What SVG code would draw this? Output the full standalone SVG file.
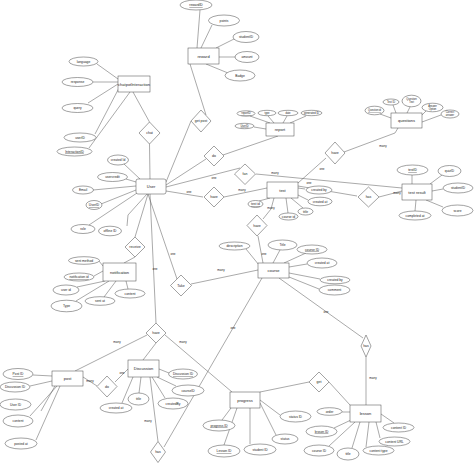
<svg xmlns="http://www.w3.org/2000/svg" width="474" height="464" viewBox="0 0 474 464">
<style>
text{font-family:"Liberation Sans",Arial,sans-serif;text-anchor:middle;dominant-baseline:central;fill:#222}
.e rect{fill:#fff;stroke:#444;stroke-width:0.5}
.a ellipse{fill:#fff;stroke:#444;stroke-width:0.5}
.r polygon{fill:#fff;stroke:#444;stroke-width:0.5}
.e text{font-size:4px}
.a text{font-size:3.3px}
.r text{font-size:3.5px}
.u{text-decoration:underline}
#connectors line,#connectors polyline{stroke:#555;stroke-width:0.5;fill:none}
#connectors text{font-size:3px}
</style>
<rect width="474" height="464" fill="#fff"/>
<g id="connectors">
<!-- chatpot attrs -->
<line x1="97" y1="64" x2="118" y2="79"/>
<line x1="93" y1="82" x2="118" y2="82"/>
<line x1="88" y1="103" x2="118" y2="84"/>
<line x1="95" y1="134" x2="119" y2="88"/>
<line x1="89" y1="148" x2="130" y2="92"/>
<line x1="133" y1="92" x2="149.5" y2="122"/>
<line x1="149.5" y1="144" x2="150" y2="179"/>
<!-- reward -->
<line x1="200" y1="10" x2="197" y2="48"/>
<line x1="212" y1="25" x2="201" y2="48"/>
<line x1="236" y1="38" x2="216" y2="48"/>
<line x1="236" y1="57" x2="219" y2="57"/>
<line x1="228" y1="73" x2="206" y2="64"/>
<line x1="190" y1="64" x2="206" y2="115"/>
<line x1="191" y1="121" x2="166" y2="182"/>
<!-- do / report -->
<line x1="166" y1="185" x2="206" y2="159"/>
<line x1="223" y1="155" x2="278" y2="136"/>
<line x1="250" y1="116" x2="270" y2="123"/>
<line x1="268" y1="116" x2="274" y2="123"/>
<line x1="287" y1="116" x2="283" y2="123"/>
<line x1="306" y1="116" x2="290" y2="123"/>
<line x1="254" y1="127" x2="266" y2="129"/>
<!-- questions -->
<line x1="380" y1="114" x2="391" y2="118"/>
<line x1="393" y1="105" x2="396" y2="113"/>
<line x1="410" y1="107" x2="407" y2="113"/>
<line x1="426" y1="111" x2="422" y2="115"/>
<line x1="441" y1="115" x2="422" y2="122"/>
<polyline points="398,128 395,133 344,152"/>
<text x="383" y="146">many</text>
<line x1="326" y1="158" x2="298" y2="183"/>
<text x="322" y="169">one</text>
<!-- user attrs -->
<line x1="124" y1="164" x2="140" y2="179"/>
<line x1="126" y1="179" x2="136" y2="182"/>
<line x1="93" y1="190" x2="136" y2="186"/>
<line x1="101" y1="204" x2="136" y2="190"/>
<line x1="89" y1="225" x2="137" y2="193"/>
<polyline points="127,226 128,215 147,194"/>
<!-- notification -->
<line x1="148" y1="194" x2="135" y2="237"/>
<line x1="135" y1="257" x2="124" y2="263"/>
<line x1="99" y1="261" x2="103" y2="266"/>
<line x1="94" y1="276" x2="103" y2="271"/>
<line x1="77" y1="287" x2="105" y2="281"/>
<line x1="76" y1="301" x2="109" y2="281"/>
<line x1="104" y1="297" x2="116" y2="281"/>
<line x1="128" y1="289" x2="126" y2="281"/>
<!-- fan -->
<line x1="166" y1="187" x2="240" y2="168"/>
<text x="214" y="178">one</text>
<line x1="256" y1="174" x2="402" y2="188"/>
<text x="275" y="173">many</text>
<!-- have test -->
<line x1="166" y1="191" x2="203" y2="197"/>
<text x="189" y="192">one</text>
<line x1="224" y1="197" x2="267" y2="188"/>
<text x="242" y="190">many</text>
<!-- has test result -->
<line x1="298" y1="186" x2="357" y2="196"/>
<text x="309" y="183">one</text>
<line x1="379" y1="197" x2="402" y2="191"/>
<text x="397" y="193">many</text>
<!-- test attrs -->
<line x1="305" y1="189" x2="298" y2="188"/>
<line x1="308" y1="200" x2="298" y2="195"/>
<line x1="303" y1="208" x2="291" y2="198"/>
<line x1="288" y1="213" x2="286" y2="198"/>
<line x1="259" y1="201" x2="270" y2="198"/>
<!-- test result attrs -->
<line x1="412" y1="175" x2="412" y2="184"/>
<line x1="442" y1="175" x2="430" y2="184"/>
<line x1="443" y1="189" x2="432" y2="191"/>
<line x1="443" y1="207" x2="426" y2="200"/>
<line x1="415" y1="211" x2="416" y2="200"/>
<!-- test - have - course -->
<polyline points="274,198 271,209 263,219"/>
<text x="271" y="208">many</text>
<line x1="258" y1="236" x2="263" y2="263"/>
<text x="264" y="254">one</text>
<!-- course attrs -->
<line x1="246" y1="249" x2="259" y2="265"/>
<line x1="280" y1="250" x2="273" y2="263"/>
<line x1="306" y1="253" x2="284" y2="263"/>
<line x1="307" y1="264" x2="289" y2="267"/>
<line x1="320" y1="279" x2="289" y2="273"/>
<line x1="319" y1="289" x2="289" y2="277"/>
<!-- take -->
<line x1="148" y1="194" x2="177" y2="279"/>
<text x="173" y="254">one</text>
<line x1="191" y1="284" x2="258" y2="270"/>
<text x="221" y="270">many</text>
<!-- user to have discussion -->
<line x1="150" y1="194" x2="156" y2="323"/>
<text x="155" y="269">one</text>
<line x1="147" y1="335" x2="75" y2="371"/>
<text x="117" y="342">many</text>
<line x1="156" y1="343" x2="143" y2="360"/>
<line x1="165" y1="335" x2="232" y2="392"/>
<text x="183" y="342">many</text>
<!-- discussion attrs -->
<line x1="169" y1="373" x2="159" y2="369"/>
<line x1="176" y1="386" x2="157" y2="377"/>
<line x1="165" y1="398" x2="152" y2="377"/>
<line x1="139" y1="393" x2="141" y2="377"/>
<line x1="122" y1="403" x2="133" y2="377"/>
<!-- do post -->
<line x1="83" y1="377" x2="97" y2="386"/>
<text x="90" y="381">many</text>
<line x1="115" y1="382" x2="128" y2="369"/>
<text x="122" y="373">one</text>
<!-- post attrs -->
<line x1="33" y1="375" x2="52" y2="376"/>
<line x1="30" y1="386" x2="52" y2="381"/>
<line x1="41" y1="411" x2="55" y2="386"/>
<line x1="30" y1="416" x2="57" y2="386"/>
<line x1="36" y1="440" x2="60" y2="386"/>
<!-- has discussion/course -->
<line x1="150" y1="377" x2="158" y2="441.5"/>
<text x="148" y="421">many</text>
<line x1="262" y1="278" x2="164" y2="447"/>
<text x="233" y="328">one</text>
<!-- course has lesson -->
<line x1="279" y1="278" x2="363" y2="338"/>
<text x="326" y="312">one</text>
<line x1="366" y1="357" x2="366" y2="405"/>
<text x="373" y="378">many</text>
<!-- progress -->
<line x1="260" y1="392" x2="309" y2="382"/>
<line x1="329" y1="382" x2="350" y2="405"/>
<line x1="222" y1="420" x2="231" y2="408"/>
<line x1="224" y1="445" x2="237" y2="408"/>
<line x1="250" y1="444" x2="250" y2="408"/>
<line x1="280" y1="415" x2="260" y2="400"/>
<line x1="276" y1="435" x2="260" y2="403"/>
<!-- lesson attrs -->
<line x1="342" y1="412" x2="350" y2="412"/>
<line x1="334" y1="428" x2="351" y2="420"/>
<line x1="329" y1="446" x2="355" y2="422"/>
<line x1="352" y1="448" x2="360" y2="422"/>
<line x1="394" y1="423" x2="381" y2="414"/>
<line x1="380" y1="438" x2="376" y2="422"/>
<line x1="366" y1="447" x2="369" y2="422"/>
</g>
<!-- entities -->
<g id="chatpotInteraction" class="e"><rect x="118" y="76" width="32" height="16"/><text x="134" y="84">chatpotInteraction</text></g>
<g id="reward" class="e"><rect x="188" y="48" width="31" height="16"/><text x="203.5" y="56">reward</text></g>
<g id="report" class="e"><rect x="266" y="123" width="28" height="13"/><text x="280" y="129.5">report</text></g>
<g id="questions" class="e"><rect x="391" y="113" width="31" height="15"/><text x="406.5" y="120.5">questions</text></g>
<g id="user" class="e"><rect x="136" y="179" width="30" height="15" rx="2"/><text x="151" y="186.5">User</text></g>
<g id="test" class="e"><rect x="267" y="182" width="31" height="16"/><text x="282.5" y="190">test</text></g>
<g id="test-result" class="e"><rect x="402" y="184" width="30" height="16"/><text x="417" y="192">test result</text></g>
<g id="notification" class="e"><rect x="103" y="263" width="33" height="18"/><text x="119.5" y="272">notification</text></g>
<g id="course" class="e"><rect x="258" y="263" width="31" height="15"/><text x="273.5" y="270.5">course</text></g>
<g id="post" class="e"><rect x="52" y="371" width="31" height="15"/><text x="67.5" y="378.5">post</text></g>
<g id="discussion" class="e"><rect x="128" y="360" width="31" height="17"/><text x="143.5" y="368.5">Discussion</text></g>
<g id="progress" class="e"><rect x="230" y="392" width="30" height="16"/><text x="245" y="400">progress</text></g>
<g id="lesson" class="e"><rect x="350" y="405" width="31" height="17"/><text x="365.5" y="413.5">lesson</text></g>
<!-- relationships -->
<g id="r-chat" class="r"><polygon points="149.5,122 160,133 149.5,144 139,133"/><text x="149.5" y="133">chat</text></g>
<g id="r-getpost" class="r"><polygon points="201,110 211,121 201,132 191,121"/><text x="201" y="121">get post</text></g>
<g id="r-do1" class="r"><polygon points="214,146 224,156 214,166 204,156"/><text x="214" y="156">do</text></g>
<g id="r-have-q" class="r"><polygon points="335,142 345,153 335,164 325,153"/><text x="335" y="153">have</text></g>
<g id="r-fan" class="r"><polygon points="245,164 255.5,174 245,184.5 234.5,174"/><text x="245" y="174">fan</text></g>
<g id="r-have-t" class="r"><polygon points="214,187 224,197 214,207 204,197"/><text x="214" y="197">have</text></g>
<g id="r-has-tr" class="r"><polygon points="368.5,187 379,197 368.5,207 358,197"/><text x="368.5" y="197">has</text></g>
<g id="r-have-c" class="r"><polygon points="257,215 267,225.5 257,236 247,225.5"/><text x="257" y="225.5">have</text></g>
<g id="r-receive" class="r"><polygon points="135,237 145,247 135,257 125,247"/><text x="135" y="247">receive</text></g>
<g id="r-take" class="r"><polygon points="181,275 191.5,285.5 181,296 170.5,285.5"/><text x="181" y="285.5">Take</text></g>
<g id="r-have-d" class="r"><polygon points="156,323 166,333 156,343 146,333"/><text x="156" y="333">have</text></g>
<g id="r-do2" class="r"><polygon points="107,376 117,386.5 107,397 97,386.5"/><text x="107" y="386.5">do</text></g>
<g id="r-has-d" class="r"><polygon points="158,441.5 165.5,452 158,462.5 150.5,452"/><text x="158" y="452">has</text></g>
<g id="r-get" class="r"><polygon points="319,372 329,382 319,392 309,382"/><text x="319" y="382">get</text></g>
<g id="r-has-l" class="r"><polygon points="366,335 371,346 366,357 361,346"/><text x="366" y="346">has</text></g>
<!-- attributes -->
<g id="a-language" class="a"><ellipse cx="83.5" cy="61.5" rx="14.5" ry="4.5"/><text x="83.5" y="61.5">language</text></g>
<g id="a-response" class="a"><ellipse cx="77.5" cy="82" rx="15.5" ry="4.5"/><text x="77.5" y="82">response</text></g>
<g id="a-query" class="a"><ellipse cx="77.5" cy="108" rx="15.5" ry="4.5"/><text x="77.5" y="108">query</text></g>
<g id="a-userID1" class="a"><ellipse cx="80" cy="137.5" rx="16" ry="4.5"/><text x="80" y="137.5">userID</text></g>
<g id="a-interactionID" class="a"><ellipse cx="74.5" cy="151.5" rx="17.5" ry="4.5"/><text x="74.5" y="151.5" class="u">InteractionID</text></g>
<g id="a-rewardID" class="a"><ellipse cx="196" cy="5" rx="16" ry="5"/><text x="196" y="5" class="u">rewardID</text></g>
<g id="a-points" class="a"><ellipse cx="224" cy="20.5" rx="15.5" ry="5.5"/><text x="224" y="20.5">points</text></g>
<g id="a-studentID1" class="a"><ellipse cx="246" cy="37" rx="13" ry="5.5"/><text x="246" y="37">studentID</text></g>
<g id="a-amount" class="a"><ellipse cx="247" cy="57" rx="12" ry="5.5"/><text x="247" y="57">amount</text></g>
<g id="a-badge" class="a"><ellipse cx="240" cy="75.5" rx="15" ry="5.5"/><text x="240" y="75.5">Badge</text></g>
<g id="a-reportID" class="a"><ellipse cx="246" cy="113.5" rx="9" ry="2.7"/><text x="246" y="113.5" class="u" style="font-size:2.6px">reportID</text></g>
<g id="a-type" class="a"><ellipse cx="267" cy="113" rx="9" ry="2.7"/><text x="267" y="113" style="font-size:2.6px">type</text></g>
<g id="a-date" class="a"><ellipse cx="288" cy="113" rx="10" ry="2.7"/><text x="288" y="113" style="font-size:2.6px">date</text></g>
<g id="a-generated" class="a"><ellipse cx="311.5" cy="113" rx="10.5" ry="2.7"/><text x="311.5" y="113" style="font-size:2.6px">generated ID</text></g>
<g id="a-userID2" class="a"><ellipse cx="244.5" cy="126" rx="9.5" ry="2.7"/><text x="244.5" y="126" class="u" style="font-size:2.6px">UserID</text></g>
<g id="a-questionid" class="a"><ellipse cx="374.5" cy="110.5" rx="9.5" ry="4.3"/><text x="374.5" y="110.5" class="u" style="font-size:2.6px">Question id</text></g>
<g id="a-testid1" class="a"><ellipse cx="391" cy="102" rx="8" ry="3"/><text x="391" y="102" style="font-size:2.6px">Test ID</text></g>
<g id="a-qtext" class="a"><ellipse cx="411.5" cy="101" rx="9.5" ry="5.8"/><text x="411.5" y="99.5" style="font-size:2.6px">Question</text><text x="411.5" y="102.7" style="font-size:2.6px">Text</text></g>
<g id="a-answer" class="a"><ellipse cx="432.5" cy="107.5" rx="10.5" ry="4.3"/><text x="432.5" y="106" style="font-size:2.6px">Answer</text><text x="432.5" y="109" style="font-size:2.6px">Option</text></g>
<g id="a-correct" class="a"><ellipse cx="450" cy="114" rx="9" ry="4"/><text x="450" y="112.6" style="font-size:2.6px">Correct</text><text x="450" y="115.6" style="font-size:2.6px">answer</text></g>
<g id="a-createdId" class="a"><ellipse cx="118" cy="160" rx="10.5" ry="5"/><text x="118" y="160">created Id</text></g>
<g id="a-usercredit" class="a"><ellipse cx="112.5" cy="177" rx="15" ry="4.5"/><text x="112.5" y="177">usercredit</text></g>
<g id="a-email" class="a"><ellipse cx="83" cy="190" rx="10.5" ry="4"/><text x="83" y="190">Email</text></g>
<g id="a-userID3" class="a"><ellipse cx="94" cy="205" rx="8" ry="4.5"/><text x="94" y="205" class="u">UserID</text></g>
<g id="a-role" class="a"><ellipse cx="83" cy="229" rx="12" ry="4.5"/><text x="83" y="229">role</text></g>
<g id="a-offline" class="a"><ellipse cx="110" cy="231" rx="11.5" ry="4.8"/><text x="110" y="231">offline ID</text></g>
<g id="a-sentmethod" class="a"><ellipse cx="84" cy="260.5" rx="15.5" ry="3.8"/><text x="84" y="260.5">sent method</text></g>
<g id="a-notifid" class="a"><ellipse cx="79" cy="277" rx="15" ry="4"/><text x="79" y="277" class="u">notification id</text></g>
<g id="a-userid4" class="a"><ellipse cx="66" cy="290" rx="13" ry="5"/><text x="66" y="290">user id</text></g>
<g id="a-type2" class="a"><ellipse cx="66.5" cy="306" rx="15.5" ry="5.8"/><text x="66.5" y="306">Type</text></g>
<g id="a-sentat" class="a"><ellipse cx="100" cy="301" rx="15" ry="4.3"/><text x="100" y="301">sent at</text></g>
<g id="a-content1" class="a"><ellipse cx="130" cy="293.5" rx="15" ry="4.5"/><text x="130" y="293.5">content</text></g>
<g id="a-createdby1" class="a"><ellipse cx="319" cy="190" rx="13" ry="4"/><text x="319" y="190">created by</text></g>
<g id="a-createdat1" class="a"><ellipse cx="320" cy="201.5" rx="12" ry="4.3"/><text x="320" y="201.5">created at</text></g>
<g id="a-testid2" class="a"><ellipse cx="255.5" cy="204" rx="7.5" ry="3.5"/><text x="255.5" y="204" class="u">test id</text></g>
<g id="a-title1" class="a"><ellipse cx="305.5" cy="211.5" rx="7.5" ry="3.5"/><text x="305.5" y="211.5">title</text></g>
<g id="a-courseid1" class="a"><ellipse cx="288.5" cy="216.5" rx="9.5" ry="3.5"/><text x="288.5" y="216.5">course id</text></g>
<g id="a-testID3" class="a"><ellipse cx="412.5" cy="170" rx="15.5" ry="5"/><text x="412.5" y="170" class="u">testID</text></g>
<g id="a-quizID" class="a"><ellipse cx="449.5" cy="171" rx="11.5" ry="5.5"/><text x="449.5" y="171">quizID</text></g>
<g id="a-studentID2" class="a"><ellipse cx="458" cy="188" rx="15" ry="5"/><text x="458" y="188">studentID</text></g>
<g id="a-score" class="a"><ellipse cx="457.5" cy="210.5" rx="15.5" ry="5.5"/><text x="457.5" y="210.5">score</text></g>
<g id="a-completed" class="a"><ellipse cx="415" cy="215.5" rx="16" ry="4.5"/><text x="415" y="215.5">completed at</text></g>
<g id="a-description" class="a"><ellipse cx="234.5" cy="246" rx="15.5" ry="4"/><text x="234.5" y="246">description</text></g>
<g id="a-title2" class="a"><ellipse cx="282.5" cy="245" rx="14.5" ry="5"/><text x="282.5" y="245">Title</text></g>
<g id="a-courseID2" class="a"><ellipse cx="312" cy="249.5" rx="15" ry="4.5"/><text x="312" y="249.5" class="u">course ID</text></g>
<g id="a-createdat2" class="a"><ellipse cx="322" cy="263" rx="15" ry="5"/><text x="322" y="263">created at</text></g>
<g id="a-createdby2" class="a"><ellipse cx="335" cy="280" rx="15" ry="3.8"/><text x="335" y="280">created by</text></g>
<g id="a-comment" class="a"><ellipse cx="334.5" cy="290" rx="15.5" ry="5"/><text x="334.5" y="290">comment</text></g>
<g id="a-postID" class="a"><ellipse cx="18" cy="374" rx="15" ry="5.5"/><text x="18" y="374" class="u">Post ID</text></g>
<g id="a-discID1" class="a"><ellipse cx="15" cy="387" rx="15" ry="5"/><text x="15" y="387">Discussion ID</text></g>
<g id="a-userID5" class="a"><ellipse cx="15.5" cy="404.5" rx="15.5" ry="5.5"/><text x="15.5" y="404.5">User ID</text></g>
<g id="a-content2" class="a"><ellipse cx="18" cy="421" rx="15" ry="6"/><text x="18" y="421">content</text></g>
<g id="a-postedat" class="a"><ellipse cx="21" cy="443.5" rx="16" ry="5.5"/><text x="21" y="443.5">posted at</text></g>
<g id="a-discID2" class="a"><ellipse cx="183" cy="374" rx="14.5" ry="5"/><text x="183" y="374" class="u">Discussion ID</text></g>
<g id="a-courseID3" class="a"><ellipse cx="188" cy="390.5" rx="16" ry="5.5"/><text x="188" y="390.5">courseID</text></g>
<g id="a-createdBy3" class="a"><ellipse cx="173" cy="403.5" rx="15" ry="5.5"/><text x="173" y="403.5">createdBy</text></g>
<g id="a-title3" class="a"><ellipse cx="138.5" cy="399" rx="10.5" ry="6"/><text x="138.5" y="399">title</text></g>
<g id="a-createdat3" class="a"><ellipse cx="116" cy="408" rx="16" ry="5"/><text x="116" y="408">created at</text></g>
<g id="a-progressID" class="a"><ellipse cx="219" cy="425.5" rx="16" ry="5.5"/><text x="219" y="425.5" class="u">progress ID</text></g>
<g id="a-lessonID1" class="a"><ellipse cx="224" cy="451" rx="16" ry="6"/><text x="224" y="451" class="u">Lesson ID</text></g>
<g id="a-statusID" class="a"><ellipse cx="295.5" cy="416.5" rx="15.5" ry="5.5"/><text x="295.5" y="416.5">status ID</text></g>
<g id="a-status" class="a"><ellipse cx="285" cy="439" rx="13" ry="5"/><text x="285" y="439">status</text></g>
<g id="a-studentID3" class="a"><ellipse cx="260" cy="449.5" rx="16" ry="5.5"/><text x="260" y="449.5">student ID</text></g>
<g id="a-order" class="a"><ellipse cx="329.5" cy="411.5" rx="12.5" ry="3.8"/><text x="329.5" y="411.5">order</text></g>
<g id="a-lessonID2" class="a"><ellipse cx="321.5" cy="431.5" rx="15.5" ry="5.5"/><text x="321.5" y="431.5" class="u">lesson ID</text></g>
<g id="a-courseID4" class="a"><ellipse cx="319" cy="450.5" rx="15" ry="5.5"/><text x="319" y="450.5">course ID</text></g>
<g id="a-title4" class="a"><ellipse cx="348" cy="454" rx="11" ry="6"/><text x="348" y="454">title</text></g>
<g id="a-contentID" class="a"><ellipse cx="398.5" cy="427.5" rx="15.5" ry="4.5"/><text x="398.5" y="427.5">content ID</text></g>
<g id="a-contentURL" class="a"><ellipse cx="394.5" cy="441.5" rx="15.5" ry="4.5"/><text x="394.5" y="441.5">content URL</text></g>
<g id="a-contenttype" class="a"><ellipse cx="378.5" cy="450.5" rx="15.5" ry="4.5"/><text x="378.5" y="450.5">content type</text></g>
</svg>
